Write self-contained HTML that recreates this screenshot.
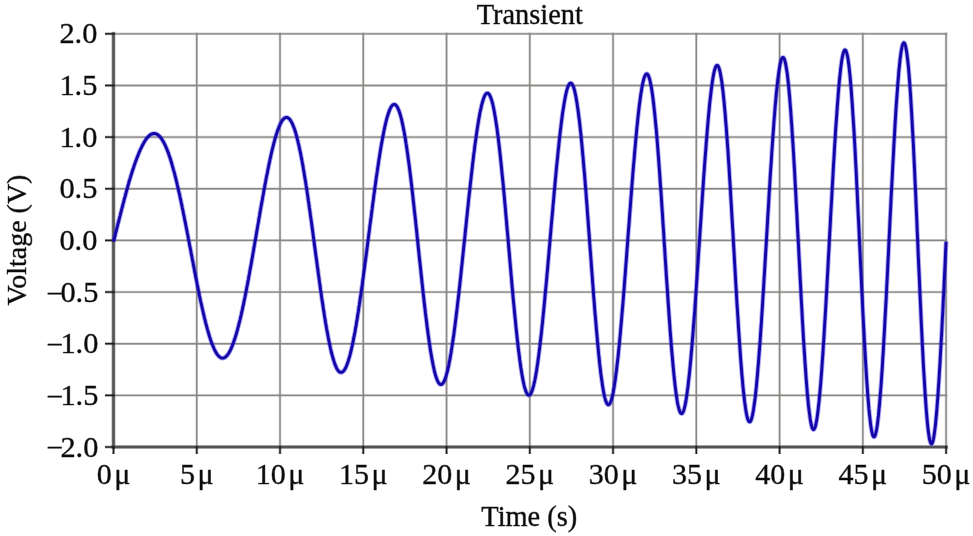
<!DOCTYPE html>
<html><head><meta charset="utf-8"><title>Transient</title>
<style>
html,body{margin:0;padding:0;background:#fff;overflow:hidden}
svg{display:block}
text{font-family:"Liberation Serif","DejaVu Serif",serif;fill:#0b0b0b;stroke:#000;stroke-opacity:.45;stroke-width:.8px;paint-order:stroke fill;stroke-linejoin:round}
</style></head><body>
<svg width="973" height="536" viewBox="0 0 973 536">
<rect width="973" height="536" fill="#fff"/>
<defs>
<g id="grid" stroke-linecap="square"><line x1="196.76" y1="33.80" x2="196.76" y2="447.00"/><line x1="280.02" y1="33.80" x2="280.02" y2="447.00"/><line x1="363.28" y1="33.80" x2="363.28" y2="447.00"/><line x1="446.54" y1="33.80" x2="446.54" y2="447.00"/><line x1="529.80" y1="33.80" x2="529.80" y2="447.00"/><line x1="613.06" y1="33.80" x2="613.06" y2="447.00"/><line x1="696.32" y1="33.80" x2="696.32" y2="447.00"/><line x1="779.58" y1="33.80" x2="779.58" y2="447.00"/><line x1="862.84" y1="33.80" x2="862.84" y2="447.00"/><line x1="946.10" y1="33.80" x2="946.10" y2="447.00"/><line x1="113.50" y1="395.35" x2="946.10" y2="395.35"/><line x1="113.50" y1="343.70" x2="946.10" y2="343.70"/><line x1="113.50" y1="292.05" x2="946.10" y2="292.05"/><line x1="113.50" y1="240.40" x2="946.10" y2="240.40"/><line x1="113.50" y1="188.75" x2="946.10" y2="188.75"/><line x1="113.50" y1="137.10" x2="946.10" y2="137.10"/><line x1="113.50" y1="85.45" x2="946.10" y2="85.45"/><line x1="113.50" y1="33.80" x2="946.10" y2="33.80"/></g>
<path id="curve" d="M113.5,241.6 114.1,239.5 114.6,237.3 115.2,235.1 115.7,232.9 116.3,230.7 116.8,228.5 117.4,226.3 117.9,224.1 118.5,221.9 119.1,219.7 119.6,217.5 120.2,215.3 120.7,213.2 121.3,211.0 121.8,208.8 122.4,206.7 122.9,204.5 123.5,202.4 124.0,200.3 124.6,198.2 125.2,196.1 125.7,194.0 126.3,192.0 126.8,189.9 127.4,187.9 127.9,185.9 128.5,183.9 129.0,181.9 129.6,180.0 130.2,178.1 130.7,176.3 131.3,174.5 131.8,172.8 132.4,171.1 132.9,169.4 133.5,167.7 134.0,166.1 134.6,164.4 135.1,162.9 135.7,161.3 136.3,159.8 136.8,158.3 137.4,156.9 137.9,155.5 138.5,154.1 139.0,152.7 139.6,151.4 140.1,150.2 140.7,148.9 141.3,147.7 141.8,146.6 142.4,145.5 142.9,144.4 143.5,143.4 144.0,142.4 144.6,141.5 145.1,140.6 145.7,139.8 146.2,139.0 146.8,138.3 147.4,137.6 147.9,137.0 148.5,136.4 149.0,135.8 149.6,135.4 150.1,134.9 150.7,134.5 151.2,134.2 151.8,134.0 152.4,133.8 152.9,133.6 153.5,133.5 154.0,133.5 154.6,133.5 155.1,133.6 155.7,133.7 156.2,133.9 156.8,134.1 157.4,134.5 157.9,134.8 158.5,135.3 159.0,135.8 159.6,136.3 160.1,136.9 160.7,137.6 161.2,138.3 161.8,139.1 162.3,140.0 162.9,140.9 163.5,141.9 164.0,142.9 164.6,144.0 165.1,145.2 165.7,146.4 166.2,147.7 166.8,149.0 167.3,150.4 167.9,151.9 168.5,153.4 169.0,155.0 169.6,156.6 170.1,158.3 170.7,160.0 171.2,161.8 171.8,163.7 172.3,165.6 172.9,167.6 173.4,169.6 174.0,171.6 174.6,173.7 175.1,175.9 175.7,178.1 176.2,180.4 176.8,182.6 177.3,185.0 177.9,187.4 178.4,189.8 179.0,192.3 179.6,194.8 180.1,197.3 180.7,199.9 181.2,202.5 181.8,205.1 182.3,207.8 182.9,210.5 183.4,213.2 184.0,216.0 184.5,218.8 185.1,221.6 185.7,224.4 186.2,227.2 186.8,230.1 187.3,233.0 187.9,235.8 188.4,238.7 189.0,241.6 189.5,244.6 190.1,247.5 190.7,250.4 191.2,253.3 191.8,256.2 192.3,259.1 192.9,262.0 193.4,264.9 194.0,267.8 194.5,270.7 195.1,273.6 195.6,276.4 196.2,279.3 196.8,282.1 197.3,284.8 197.9,287.6 198.4,290.3 199.0,293.1 199.5,295.7 200.1,298.4 200.6,301.0 201.2,303.6 201.8,306.1 202.3,308.6 202.9,311.0 203.4,313.4 204.0,315.8 204.5,318.1 205.1,320.4 205.6,322.6 206.2,324.7 206.8,326.8 207.3,328.9 207.9,330.9 208.4,332.8 209.0,334.7 209.5,336.5 210.1,338.2 210.6,339.9 211.2,341.5 211.7,343.0 212.3,344.5 212.9,345.9 213.4,347.2 214.0,348.5 214.5,349.7 215.1,350.8 215.6,351.8 216.2,352.8 216.7,353.7 217.3,354.5 217.9,355.2 218.4,355.8 219.0,356.4 219.5,356.9 220.1,357.3 220.6,357.6 221.2,357.9 221.7,358.0 222.3,358.1 222.8,358.1 223.4,358.0 224.0,357.8 224.5,357.6 225.1,357.3 225.6,356.9 226.2,356.4 226.7,355.8 227.3,355.2 227.8,354.4 228.4,353.6 229.0,352.7 229.5,351.8 230.1,350.7 230.6,349.6 231.2,348.4 231.7,347.1 232.3,345.8 232.8,344.3 233.4,342.8 233.9,341.3 234.5,339.6 235.1,337.9 235.6,336.1 236.2,334.3 236.7,332.4 237.3,330.4 237.8,328.3 238.4,326.2 238.9,324.1 239.5,321.8 240.1,319.5 240.6,317.2 241.2,314.8 241.7,312.3 242.3,309.8 242.8,307.3 243.4,304.7 243.9,302.0 244.5,299.3 245.1,296.5 245.6,293.8 246.2,290.9 246.7,288.0 247.3,285.1 247.8,282.2 248.4,279.2 248.9,276.2 249.5,273.2 250.0,270.1 250.6,267.0 251.2,263.9 251.7,260.8 252.3,257.6 252.8,254.4 253.4,251.2 253.9,248.0 254.5,244.8 255.0,241.6 255.6,238.4 256.2,235.1 256.7,231.9 257.3,228.6 257.8,225.4 258.4,222.2 258.9,219.0 259.5,215.7 260.0,212.5 260.6,209.3 261.1,206.2 261.7,203.0 262.3,199.9 262.8,196.8 263.4,193.7 263.9,190.6 264.5,187.6 265.0,184.6 265.6,181.6 266.1,178.7 266.7,175.8 267.3,173.0 267.8,170.2 268.4,167.4 268.9,164.7 269.5,162.1 270.0,159.5 270.6,156.9 271.1,154.5 271.7,152.0 272.2,149.7 272.8,147.4 273.4,145.2 273.9,143.0 274.5,140.9 275.0,138.9 275.6,137.0 276.1,135.1 276.7,133.4 277.2,131.7 277.8,130.1 278.4,128.6 278.9,127.1 279.5,125.8 280.0,124.6 280.6,123.4 281.1,122.4 281.7,121.4 282.2,120.5 282.8,119.8 283.4,119.1 283.9,118.6 284.5,118.1 285.0,117.8 285.6,117.6 286.1,117.5 286.7,117.4 287.2,117.5 287.8,117.8 288.3,118.1 288.9,118.5 289.5,119.1 290.0,119.7 290.6,120.5 291.1,121.4 291.7,122.4 292.2,123.5 292.8,124.7 293.3,126.1 293.9,127.5 294.5,129.1 295.0,130.8 295.6,132.5 296.1,134.4 296.7,136.4 297.2,138.6 297.8,140.8 298.3,143.1 298.9,145.5 299.4,148.0 300.0,150.7 300.6,153.4 301.1,156.2 301.7,159.1 302.2,162.1 302.8,165.2 303.3,168.4 303.9,171.6 304.4,175.0 305.0,178.4 305.6,181.9 306.1,185.4 306.7,189.0 307.2,192.7 307.8,196.5 308.3,200.3 308.9,204.1 309.4,208.0 310.0,211.9 310.5,215.9 311.1,219.9 311.7,224.0 312.2,228.0 312.8,232.1 313.3,236.3 313.9,240.4 314.4,244.5 315.0,248.7 315.5,252.8 316.1,257.0 316.7,261.1 317.2,265.2 317.8,269.3 318.3,273.4 318.9,277.4 319.4,281.4 320.0,285.4 320.5,289.4 321.1,293.3 321.6,297.1 322.2,300.9 322.8,304.6 323.3,308.3 323.9,311.9 324.4,315.4 325.0,318.9 325.5,322.3 326.1,325.6 326.6,328.8 327.2,331.9 327.8,334.9 328.3,337.8 328.9,340.7 329.4,343.4 330.0,346.0 330.5,348.5 331.1,350.9 331.6,353.2 332.2,355.3 332.8,357.4 333.3,359.3 333.9,361.1 334.4,362.8 335.0,364.3 335.5,365.7 336.1,367.0 336.6,368.2 337.2,369.2 337.7,370.0 338.3,370.8 338.9,371.4 339.4,371.9 340.0,372.2 340.5,372.4 341.1,372.4 341.6,372.4 342.2,372.1 342.7,371.8 343.3,371.3 343.9,370.7 344.4,369.9 345.0,369.0 345.5,368.0 346.1,366.8 346.6,365.5 347.2,364.1 347.7,362.6 348.3,360.9 348.8,359.1 349.4,357.2 350.0,355.1 350.5,352.9 351.1,350.7 351.6,348.3 352.2,345.8 352.7,343.2 353.3,340.4 353.8,337.6 354.4,334.7 355.0,331.7 355.5,328.6 356.1,325.4 356.6,322.1 357.2,318.7 357.7,315.2 358.3,311.7 358.8,308.1 359.4,304.4 359.9,300.6 360.5,296.8 361.1,292.9 361.6,289.0 362.2,285.0 362.7,280.9 363.3,276.8 363.8,272.7 364.4,268.5 364.9,264.3 365.5,260.1 366.1,255.8 366.6,251.6 367.2,247.3 367.7,242.9 368.3,238.6 368.8,234.3 369.4,230.0 369.9,225.6 370.5,221.3 371.1,217.0 371.6,212.7 372.2,208.5 372.7,204.2 373.3,200.0 373.8,195.8 374.4,191.7 374.9,187.6 375.5,183.6 376.0,179.6 376.6,175.6 377.2,171.8 377.7,168.0 378.3,164.2 378.8,160.6 379.4,157.0 379.9,153.5 380.5,150.0 381.0,146.7 381.6,143.5 382.2,140.4 382.7,137.3 383.3,134.4 383.8,131.6 384.4,128.9 384.9,126.4 385.5,123.9 386.0,121.6 386.6,119.4 387.1,117.4 387.7,115.5 388.3,113.7 388.8,112.1 389.4,110.6 389.9,109.3 390.5,108.1 391.0,107.1 391.6,106.2 392.1,105.5 392.7,105.0 393.3,104.6 393.8,104.4 394.4,104.4 394.9,104.6 395.5,104.9 396.0,105.3 396.6,106.0 397.1,106.8 397.7,107.8 398.2,109.0 398.8,110.4 399.4,111.9 399.9,113.6 400.5,115.5 401.0,117.5 401.6,119.7 402.1,122.1 402.7,124.7 403.2,127.4 403.8,130.2 404.4,133.3 404.9,136.4 405.5,139.8 406.0,143.3 406.6,146.9 407.1,150.6 407.7,154.5 408.2,158.6 408.8,162.7 409.4,167.0 409.9,171.4 410.5,175.9 411.0,180.5 411.6,185.2 412.1,190.0 412.7,194.8 413.2,199.8 413.8,204.8 414.3,209.9 414.9,215.0 415.5,220.2 416.0,225.4 416.6,230.7 417.1,236.0 417.7,241.3 418.2,246.6 418.8,251.9 419.3,257.2 419.9,262.5 420.5,267.7 421.0,273.0 421.6,278.2 422.1,283.3 422.7,288.4 423.2,293.5 423.8,298.4 424.3,303.3 424.9,308.2 425.4,312.9 426.0,317.5 426.6,322.0 427.1,326.4 427.7,330.7 428.2,334.8 428.8,338.9 429.3,342.7 429.9,346.5 430.4,350.1 431.0,353.5 431.6,356.8 432.1,359.9 432.7,362.8 433.2,365.6 433.8,368.2 434.3,370.6 434.9,372.8 435.4,374.9 436.0,376.7 436.5,378.4 437.1,379.8 437.7,381.1 438.2,382.2 438.8,383.1 439.3,383.7 439.9,384.2 440.4,384.5 441.0,384.5 441.5,384.4 442.1,384.1 442.7,383.5 443.2,382.8 443.8,381.9 444.3,380.8 444.9,379.4 445.4,377.9 446.0,376.2 446.5,374.4 447.1,372.3 447.7,370.1 448.2,367.6 448.8,365.1 449.3,362.3 449.9,359.4 450.4,356.3 451.0,353.0 451.5,349.6 452.1,346.1 452.6,342.4 453.2,338.6 453.8,334.6 454.3,330.5 454.9,326.3 455.4,322.0 456.0,317.6 456.5,313.0 457.1,308.4 457.6,303.6 458.2,298.8 458.8,293.9 459.3,288.9 459.9,283.9 460.4,278.8 461.0,273.6 461.5,268.4 462.1,263.1 462.6,257.8 463.2,252.5 463.7,247.1 464.3,241.8 464.9,236.4 465.4,231.0 466.0,225.7 466.5,220.3 467.1,215.0 467.6,209.6 468.2,204.4 468.7,199.1 469.3,193.9 469.9,188.8 470.4,183.7 471.0,178.7 471.5,173.8 472.1,168.9 472.6,164.1 473.2,159.5 473.7,154.9 474.3,150.5 474.8,146.1 475.4,141.9 476.0,137.9 476.5,133.9 477.1,130.1 477.6,126.5 478.2,123.0 478.7,119.7 479.3,116.5 479.8,113.5 480.4,110.8 481.0,108.1 481.5,105.7 482.1,103.5 482.6,101.5 483.2,99.7 483.7,98.1 484.3,96.7 484.8,95.5 485.4,94.6 485.9,93.9 486.5,93.4 487.1,93.2 487.6,93.1 488.2,93.4 488.7,93.8 489.3,94.5 489.8,95.5 490.4,96.7 490.9,98.1 491.5,99.7 492.1,101.6 492.6,103.8 493.2,106.2 493.7,108.8 494.3,111.6 494.8,114.7 495.4,118.0 495.9,121.5 496.5,125.3 497.1,129.2 497.6,133.3 498.2,137.7 498.7,142.2 499.3,147.0 499.8,151.9 500.4,156.9 500.9,162.2 501.5,167.6 502.0,173.1 502.6,178.8 503.2,184.6 503.7,190.5 504.3,196.5 504.8,202.6 505.4,208.8 505.9,215.1 506.5,221.4 507.0,227.8 507.6,234.2 508.2,240.6 508.7,247.0 509.3,253.5 509.8,259.9 510.4,266.3 510.9,272.7 511.5,279.0 512.0,285.3 512.6,291.5 513.1,297.6 513.7,303.6 514.3,309.5 514.8,315.2 515.4,320.9 515.9,326.4 516.5,331.7 517.0,336.9 517.6,342.0 518.1,346.8 518.7,351.4 519.3,355.9 519.8,360.1 520.4,364.2 520.9,368.0 521.5,371.6 522.0,374.9 522.6,378.0 523.1,380.9 523.7,383.5 524.2,385.8 524.8,387.9 525.4,389.8 525.9,391.3 526.5,392.6 527.0,393.7 527.6,394.4 528.1,394.9 528.7,395.2 529.2,395.1 529.8,394.8 530.4,394.2 530.9,393.4 531.5,392.3 532.0,390.9 532.6,389.3 533.1,387.4 533.7,385.3 534.2,382.9 534.8,380.3 535.4,377.4 535.9,374.3 536.5,371.0 537.0,367.5 537.6,363.7 538.1,359.8 538.7,355.6 539.2,351.3 539.8,346.7 540.3,342.0 540.9,337.1 541.5,332.1 542.0,326.9 542.6,321.6 543.1,316.1 543.7,310.5 544.2,304.8 544.8,298.9 545.3,293.0 545.9,287.0 546.5,280.9 547.0,274.7 547.6,268.5 548.1,262.2 548.7,255.8 549.2,249.5 549.8,243.1 550.3,236.7 550.9,230.3 551.4,223.9 552.0,217.5 552.6,211.2 553.1,204.9 553.7,198.6 554.2,192.4 554.8,186.3 555.3,180.3 555.9,174.3 556.4,168.5 557.0,162.7 557.6,157.1 558.1,151.6 558.7,146.3 559.2,141.1 559.8,136.1 560.3,131.2 560.9,126.6 561.4,122.1 562.0,117.8 562.5,113.7 563.1,109.9 563.7,106.2 564.2,102.9 564.8,99.7 565.3,96.8 565.9,94.2 566.4,91.8 567.0,89.7 567.5,87.9 568.1,86.3 568.7,85.1 569.2,84.1 569.8,83.5 570.3,83.1 570.9,83.1 571.4,83.3 572.0,83.9 572.5,84.8 573.1,86.0 573.7,87.5 574.2,89.3 574.8,91.4 575.3,93.9 575.9,96.6 576.4,99.7 577.0,103.1 577.5,106.7 578.1,110.7 578.6,114.9 579.2,119.4 579.8,124.2 580.3,129.2 580.9,134.5 581.4,140.0 582.0,145.8 582.5,151.8 583.1,157.9 583.6,164.3 584.2,170.9 584.8,177.6 585.3,184.5 585.9,191.5 586.4,198.7 587.0,205.9 587.5,213.3 588.1,220.7 588.6,228.2 589.2,235.7 589.7,243.2 590.3,250.8 590.9,258.3 591.4,265.8 592.0,273.3 592.5,280.7 593.1,288.0 593.6,295.3 594.2,302.4 594.7,309.4 595.3,316.2 595.9,322.9 596.4,329.4 597.0,335.7 597.5,341.8 598.1,347.7 598.6,353.4 599.2,358.8 599.7,364.0 600.3,368.9 600.8,373.5 601.4,377.8 602.0,381.8 602.5,385.6 603.1,389.0 603.6,392.1 604.2,394.8 604.7,397.3 605.3,399.4 605.8,401.1 606.4,402.5 607.0,403.6 607.5,404.3 608.1,404.7 608.6,404.8 609.2,404.5 609.7,403.8 610.3,402.8 610.8,401.5 611.4,399.9 611.9,397.9 612.5,395.6 613.1,393.0 613.6,390.1 614.2,386.8 614.7,383.3 615.3,379.5 615.8,375.4 616.4,371.0 616.9,366.4 617.5,361.5 618.1,356.4 618.6,351.1 619.2,345.5 619.7,339.8 620.3,333.8 620.8,327.6 621.4,321.3 621.9,314.8 622.5,308.2 623.1,301.4 623.6,294.5 624.2,287.5 624.7,280.4 625.3,273.2 625.8,265.9 626.4,258.6 626.9,251.3 627.5,243.9 628.0,236.5 628.6,229.1 629.2,221.7 629.7,214.3 630.3,207.0 630.8,199.8 631.4,192.6 631.9,185.5 632.5,178.5 633.0,171.6 633.6,164.8 634.2,158.2 634.7,151.7 635.3,145.4 635.8,139.3 636.4,133.3 636.9,127.6 637.5,122.1 638.0,116.9 638.6,111.9 639.1,107.1 639.7,102.6 640.3,98.4 640.8,94.5 641.4,90.9 641.9,87.7 642.5,84.7 643.0,82.1 643.6,79.8 644.1,77.9 644.7,76.4 645.3,75.2 645.8,74.4 646.4,73.9 646.9,73.9 647.5,74.2 648.0,74.9 648.6,76.0 649.1,77.5 649.7,79.4 650.2,81.7 650.8,84.4 651.4,87.4 651.9,90.9 652.5,94.7 653.0,98.8 653.6,103.4 654.1,108.3 654.7,113.5 655.2,119.1 655.8,125.0 656.4,131.1 656.9,137.6 657.5,144.4 658.0,151.4 658.6,158.7 659.1,166.2 659.7,173.9 660.2,181.8 660.8,189.8 661.4,198.1 661.9,206.4 662.5,214.8 663.0,223.4 663.6,231.9 664.1,240.6 664.7,249.2 665.2,257.8 665.8,266.4 666.3,275.0 666.9,283.5 667.5,291.8 668.0,300.1 668.6,308.2 669.1,316.1 669.7,323.8 670.2,331.4 670.8,338.7 671.3,345.7 671.9,352.5 672.5,359.0 673.0,365.2 673.6,371.1 674.1,376.6 674.7,381.8 675.2,386.6 675.8,391.1 676.3,395.2 676.9,398.9 677.4,402.2 678.0,405.1 678.6,407.5 679.1,409.6 679.7,411.2 680.2,412.5 680.8,413.3 681.3,413.6 681.9,413.6 682.4,413.1 683.0,412.2 683.6,410.9 684.1,409.2 684.7,407.0 685.2,404.5 685.8,401.6 686.3,398.3 686.9,394.6 687.4,390.6 688.0,386.2 688.5,381.5 689.1,376.5 689.7,371.1 690.2,365.4 690.8,359.5 691.3,353.3 691.9,346.8 692.4,340.1 693.0,333.1 693.5,325.9 694.1,318.6 694.7,311.0 695.2,303.3 695.8,295.4 696.3,287.5 696.9,279.4 697.4,271.2 698.0,262.9 698.5,254.6 699.1,246.2 699.7,237.8 700.2,229.4 700.8,221.1 701.3,212.7 701.9,204.4 702.4,196.2 703.0,188.1 703.5,180.1 704.1,172.2 704.6,164.5 705.2,156.9 705.8,149.5 706.3,142.3 706.9,135.3 707.4,128.6 708.0,122.1 708.5,115.9 709.1,110.0 709.6,104.3 710.2,99.0 710.8,94.1 711.3,89.5 711.9,85.2 712.4,81.3 713.0,77.8 713.5,74.8 714.1,72.1 714.6,69.9 715.2,68.1 715.7,66.7 716.3,65.8 716.9,65.4 717.4,65.4 718.0,65.9 718.5,66.8 719.1,68.3 719.6,70.2 720.2,72.6 720.7,75.4 721.3,78.7 721.9,82.5 722.4,86.8 723.0,91.4 723.5,96.6 724.1,102.1 724.6,108.0 725.2,114.4 725.7,121.1 726.3,128.2 726.8,135.7 727.4,143.4 728.0,151.5 728.5,159.9 729.1,168.5 729.6,177.3 730.2,186.4 730.7,195.6 731.3,205.0 731.8,214.5 732.4,224.1 733.0,233.7 733.5,243.4 734.1,253.2 734.6,262.9 735.2,272.5 735.7,282.0 736.3,291.5 736.8,300.8 737.4,309.9 738.0,318.8 738.5,327.5 739.1,336.0 739.6,344.2 740.2,352.0 740.7,359.6 741.3,366.8 741.8,373.6 742.4,380.0 742.9,386.1 743.5,391.7 744.1,396.8 744.6,401.5 745.2,405.8 745.7,409.5 746.3,412.8 746.8,415.6 747.4,417.8 747.9,419.6 748.5,420.9 749.1,421.6 749.6,421.9 750.2,421.6 750.7,420.9 751.3,419.6 751.8,417.8 752.4,415.6 752.9,412.9 753.5,409.7 754.0,406.1 754.6,402.0 755.2,397.5 755.7,392.5 756.3,387.2 756.8,381.4 757.4,375.3 757.9,368.9 758.5,362.1 759.0,355.0 759.6,347.6 760.2,339.9 760.7,331.9 761.3,323.7 761.8,315.3 762.4,306.7 762.9,298.0 763.5,289.0 764.0,280.0 764.6,270.8 765.1,261.6 765.7,252.2 766.3,242.9 766.8,233.5 767.4,224.2 767.9,214.9 768.5,205.6 769.0,196.4 769.6,187.3 770.1,178.3 770.7,169.5 771.3,160.9 771.8,152.5 772.4,144.2 772.9,136.3 773.5,128.6 774.0,121.1 774.6,114.0 775.1,107.2 775.7,100.8 776.2,94.7 776.8,89.1 777.4,83.8 777.9,79.0 778.5,74.6 779.0,70.7 779.6,67.2 780.1,64.3 780.7,61.8 781.2,59.9 781.8,58.5 782.4,57.7 782.9,57.4 783.5,57.6 784.0,58.4 784.6,59.8 785.1,61.7 785.7,64.2 786.2,67.2 786.8,70.8 787.4,74.9 787.9,79.6 788.5,84.8 789.0,90.5 789.6,96.7 790.1,103.4 790.7,110.6 791.2,118.2 791.8,126.2 792.3,134.6 792.9,143.4 793.5,152.6 794.0,162.0 794.6,171.8 795.1,181.8 795.7,192.0 796.2,202.4 796.8,212.9 797.3,223.6 797.9,234.3 798.5,245.1 799.0,255.8 799.6,266.6 800.1,277.2 800.7,287.8 801.2,298.2 801.8,308.4 802.3,318.4 802.9,328.1 803.4,337.6 804.0,346.7 804.6,355.5 805.1,363.9 805.7,371.9 806.2,379.5 806.8,386.6 807.3,393.2 807.9,399.3 808.4,404.9 809.0,409.9 809.6,414.4 810.1,418.4 810.7,421.7 811.2,424.5 811.8,426.7 812.3,428.2 812.9,429.2 813.4,429.6 814.0,429.4 814.5,428.6 815.1,427.2 815.7,425.3 816.2,422.7 816.8,419.6 817.3,416.0 817.9,411.8 818.4,407.1 819.0,402.0 819.5,396.3 820.1,390.2 820.7,383.6 821.2,376.6 821.8,369.2 822.3,361.4 822.9,353.3 823.4,344.8 824.0,336.1 824.5,327.0 825.1,317.7 825.7,308.2 826.2,298.5 826.8,288.6 827.3,278.6 827.9,268.4 828.4,258.2 829.0,247.9 829.5,237.6 830.1,227.2 830.6,216.9 831.2,206.7 831.8,196.5 832.3,186.5 832.9,176.6 833.4,166.9 834.0,157.4 834.5,148.1 835.1,139.1 835.6,130.3 836.2,121.9 836.8,113.8 837.3,106.1 837.9,98.8 838.4,91.9 839.0,85.4 839.5,79.5 840.1,74.0 840.6,69.0 841.2,64.6 841.7,60.7 842.3,57.3 842.9,54.6 843.4,52.5 844.0,51.0 844.5,50.1 845.1,49.9 845.6,50.3 846.2,51.3 846.7,53.0 847.3,55.3 847.9,58.3 848.4,62.0 849.0,66.3 849.5,71.2 850.1,76.7 850.6,82.8 851.2,89.5 851.7,96.8 852.3,104.6 852.8,113.0 853.4,121.8 854.0,131.1 854.5,140.8 855.1,150.9 855.6,161.4 856.2,172.1 856.7,183.2 857.3,194.5 857.8,206.0 858.4,217.6 859.0,229.4 859.5,241.2 860.1,253.0 860.6,264.8 861.2,276.5 861.7,288.1 862.3,299.6 862.8,310.8 863.4,321.8 864.0,332.4 864.5,342.7 865.1,352.7 865.6,362.2 866.2,371.3 866.7,379.9 867.3,388.0 867.8,395.6 868.4,402.5 868.9,408.9 869.5,414.7 870.1,419.8 870.6,424.3 871.2,428.1 871.7,431.2 872.3,433.7 872.8,435.5 873.4,436.5 873.9,436.9 874.5,436.6 875.1,435.7 875.6,434.0 876.2,431.7 876.7,428.7 877.3,425.1 877.8,420.9 878.4,416.0 878.9,410.6 879.5,404.6 880.0,398.1 880.6,391.0 881.2,383.5 881.7,375.5 882.3,367.1 882.8,358.2 883.4,349.0 883.9,339.4 884.5,329.5 885.0,319.3 885.6,308.8 886.2,298.1 886.7,287.3 887.3,276.3 887.8,265.1 888.4,253.9 888.9,242.6 889.5,231.4 890.0,220.1 890.6,208.9 891.1,197.8 891.7,186.8 892.3,175.9 892.8,165.3 893.4,154.9 893.9,144.7 894.5,134.9 895.0,125.3 895.6,116.2 896.1,107.4 896.7,99.1 897.3,91.3 897.8,83.9 898.4,77.0 898.9,70.7 899.5,65.0 900.0,59.9 900.6,55.4 901.1,51.6 901.7,48.4 902.2,45.9 902.8,44.1 903.4,43.1 903.9,42.7 904.5,43.1 905.0,44.3 905.6,46.2 906.1,48.8 906.7,52.2 907.2,56.3 907.8,61.1 908.4,66.7 908.9,72.9 909.5,79.9 910.0,87.5 910.6,95.7 911.1,104.5 911.7,113.9 912.2,123.9 912.8,134.3 913.4,145.2 913.9,156.6 914.5,168.3 915.0,180.3 915.6,192.6 916.1,205.1 916.7,217.8 917.2,230.6 917.8,243.4 918.3,256.3 918.9,269.1 919.5,281.8 920.0,294.4 920.6,306.7 921.1,318.8 921.7,330.6 922.2,342.0 922.8,353.0 923.3,363.5 923.9,373.5 924.5,383.0 925.0,391.9 925.6,400.2 926.1,407.8 926.7,414.8 927.2,421.0 927.8,426.6 928.3,431.3 928.9,435.4 929.4,438.6 930.0,441.1 930.6,442.8 931.1,443.7 931.7,443.8 932.2,443.2 932.8,441.8 933.3,439.6 933.9,436.6 934.4,432.9 935.0,428.6 935.6,423.5 936.1,417.7 936.7,411.5 937.2,404.7 937.8,397.4 938.3,389.5 938.9,381.2 939.4,372.3 940.0,363.1 940.5,353.4 941.1,343.3 941.7,332.9 942.2,322.2 942.8,311.2 943.3,300.0 943.9,288.6 944.4,277.0 945.0,265.3 945.5,253.5 946.1,241.6" fill="none" stroke-linejoin="round"/>
<g id="axes" stroke-linecap="square"><line x1="113.50" y1="33.80" x2="113.50" y2="447.00"/><line x1="113.50" y1="447.00" x2="946.10" y2="447.00"/></g>
<g id="ticks"><line x1="113.50" y1="446.00" x2="113.50" y2="454.00"/><line x1="196.76" y1="446.00" x2="196.76" y2="454.00"/><line x1="280.02" y1="446.00" x2="280.02" y2="454.00"/><line x1="363.28" y1="446.00" x2="363.28" y2="454.00"/><line x1="446.54" y1="446.00" x2="446.54" y2="454.00"/><line x1="529.80" y1="446.00" x2="529.80" y2="454.00"/><line x1="613.06" y1="446.00" x2="613.06" y2="454.00"/><line x1="696.32" y1="446.00" x2="696.32" y2="454.00"/><line x1="779.58" y1="446.00" x2="779.58" y2="454.00"/><line x1="862.84" y1="446.00" x2="862.84" y2="454.00"/><line x1="946.10" y1="446.00" x2="946.10" y2="454.00"/><line x1="105.00" y1="447.00" x2="114.50" y2="447.00"/><line x1="105.00" y1="395.35" x2="114.50" y2="395.35"/><line x1="105.00" y1="343.70" x2="114.50" y2="343.70"/><line x1="105.00" y1="292.05" x2="114.50" y2="292.05"/><line x1="105.00" y1="240.40" x2="114.50" y2="240.40"/><line x1="105.00" y1="188.75" x2="114.50" y2="188.75"/><line x1="105.00" y1="137.10" x2="114.50" y2="137.10"/><line x1="105.00" y1="85.45" x2="114.50" y2="85.45"/><line x1="105.00" y1="33.80" x2="114.50" y2="33.80"/></g>
</defs>
<use href="#grid" stroke="#8f8c8a" stroke-opacity=".4" stroke-width="2.6"/>
<use href="#grid" stroke="#8a8785" stroke-width="1.35"/>
<use href="#axes" stroke="#555" stroke-opacity=".4" stroke-width="4.2"/>
<use href="#axes" stroke="#535353" stroke-width="2.6"/>
<use href="#ticks" stroke="#222" stroke-opacity=".4" stroke-width="2.8"/>
<use href="#ticks" stroke="#1c1c1c" stroke-width="1.4"/>
<use href="#curve" stroke="#3a2ee6" stroke-opacity=".42" stroke-width="4.7"/>
<use href="#curve" stroke="#1306a8" stroke-width="2.9"/>
<text x="529.8" y="24.2" font-size="28.4" text-anchor="middle">Transient</text>
<text x="529.3" y="526.4" font-size="28.4" text-anchor="middle">Time (s)</text>
<text transform="translate(26.4,240) rotate(-90)" font-size="28" text-anchor="middle">Voltage (V)</text>
<text x="97.4" y="43.3" font-size="30.4" text-anchor="end">2.0</text>
<text x="97.4" y="94.9" font-size="30.4" text-anchor="end">1.5</text>
<text x="97.4" y="146.6" font-size="30.4" text-anchor="end">1.0</text>
<text x="97.4" y="198.2" font-size="30.4" text-anchor="end">0.5</text>
<text x="97.4" y="249.9" font-size="30.4" text-anchor="end">0.0</text>
<text x="97.4" y="301.6" font-size="30.4" text-anchor="end"><tspan font-size="27" dy="-2.1" dx="1">–</tspan><tspan dy="2.1" dx="-1">0.5</tspan></text>
<text x="97.4" y="353.2" font-size="30.4" text-anchor="end"><tspan font-size="27" dy="-2.1" dx="1">–</tspan><tspan dy="2.1" dx="-1">1.0</tspan></text>
<text x="97.4" y="404.9" font-size="30.4" text-anchor="end"><tspan font-size="27" dy="-2.1" dx="1">–</tspan><tspan dy="2.1" dx="-1">1.5</tspan></text>
<text x="97.4" y="456.5" font-size="30.4" text-anchor="end"><tspan font-size="27" dy="-2.1" dx="1">–</tspan><tspan dy="2.1" dx="-1">2.0</tspan></text>
<text x="113.5" y="483.6" font-size="30" text-anchor="middle">0<tspan dx="-3.6"> μ</tspan></text>
<text x="196.8" y="483.6" font-size="30" text-anchor="middle">5<tspan dx="-3.6"> μ</tspan></text>
<text x="280.0" y="483.6" font-size="30" text-anchor="middle">10<tspan dx="-3.6"> μ</tspan></text>
<text x="363.3" y="483.6" font-size="30" text-anchor="middle">15<tspan dx="-3.6"> μ</tspan></text>
<text x="446.5" y="483.6" font-size="30" text-anchor="middle">20<tspan dx="-3.6"> μ</tspan></text>
<text x="529.8" y="483.6" font-size="30" text-anchor="middle">25<tspan dx="-3.6"> μ</tspan></text>
<text x="613.1" y="483.6" font-size="30" text-anchor="middle">30<tspan dx="-3.6"> μ</tspan></text>
<text x="696.3" y="483.6" font-size="30" text-anchor="middle">35<tspan dx="-3.6"> μ</tspan></text>
<text x="779.6" y="483.6" font-size="30" text-anchor="middle">40<tspan dx="-3.6"> μ</tspan></text>
<text x="862.8" y="483.6" font-size="30" text-anchor="middle">45<tspan dx="-3.6"> μ</tspan></text>
<text x="946.1" y="483.6" font-size="30" text-anchor="middle">50<tspan dx="-3.6"> μ</tspan></text>
</svg></body></html>
